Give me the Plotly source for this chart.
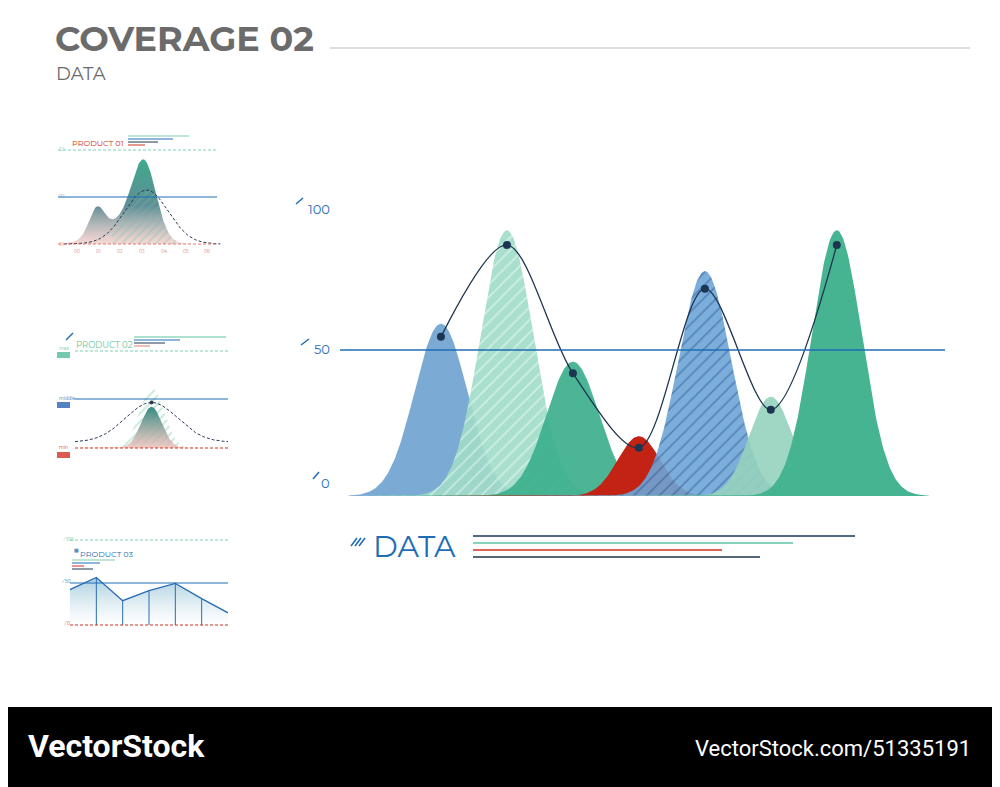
import numpy as np
import plotly.graph_objects as go

# ---------- data ----------
main_centers = [1, 2, 3, 4, 5, 6, 7]
main_heights = [59, 91, 46, 20.5, 77, 34, 91]
main_widths = [0.4, 0.4, 0.4, 0.32, 0.4, 0.33, 0.38]
main_colors = ["rgba(100,155,205,0.85)", "rgba(160,220,200,0.9)", "rgba(60,175,140,0.92)",
               "rgba(195,35,20,1)", "rgba(110,165,215,0.9)", "rgba(150,210,190,0.9)", "rgba(70,180,145,1)"]
main_hatched = [False, True, False, False, True, False, False]
dot_values = [54.5, 86, 42, 16.5, 71, 29.5, 86]

p1_ticks = ["00", "01", "02", "03", "04", "05", "06"]
p1_ylabels = ["01", "02", "03"]
p1_centers = [0.9, 2.0, 3.1]
p1_heights = [0.55, 0.45, 1.55]
p1_widths = [0.35, 1.0, 0.55]
p1_dash_center, p1_dash_height, p1_dash_width = 3.2, 1.15, 1.0

p2_hatch = [0.0, 1.25, 0.35]   # center, height, width
p2_solid = [0.0, 0.85, 0.3]
p2_dash = [0.0, 0.82, 0.75]

p3_values = [41.7, 56, 28.6, 40.5, 49, 31, 14.3]

W, H = 1000, 787
OFF = 8
def px(x): return (x - OFF) / W
def py(y): return 1 - (y - OFF) / H

fig = go.Figure()

def gauss(x, c, h, w):
    return h * np.exp(-0.5 * ((x - c) / w) ** 2)

SD = "3px,2px"

# ---------- main chart ----------
xs = np.linspace(-0.4, 8.4, 600)
for c, h, w, col, hat in zip(main_centers, main_heights, main_widths, main_colors, main_hatched):
    m = (xs > c - 3.2) & (xs < c + 3.2)
    tr = dict(x=xs[m], y=gauss(xs[m], c, h, w), mode="lines", line=dict(width=0),
              fill="tozeroy", xaxis="x", yaxis="y", hoverinfo="skip", showlegend=False, fillcolor=col)
    if hat:
        tr["fillpattern"] = dict(shape="/", fgcolor="rgba(30,70,130,0.8)" if c == 5 else "rgba(255,255,255,0.9)",
                                 bgcolor=col, size=9, solidity=0.2)
    fig.add_trace(go.Scatter(**tr))
fig.add_trace(go.Scatter(x=main_centers, y=dot_values, mode="lines+markers", line=dict(shape="spline", color="#1c3550", width=1.3, smoothing=0.9),
                         marker=dict(size=8, color="#1c3550"), xaxis="x", yaxis="y", showlegend=False))

# ---------- product 01 ----------
x1 = np.linspace(-0.6, 6.6, 300)
y1 = sum(gauss(x1, c, h, w) for c, h, w in zip(p1_centers, p1_heights, p1_widths))
fig.add_trace(go.Scatter(x=x1, y=y1, mode="lines", line=dict(width=0), fill="tozeroy",
                         fillgradient=dict(type="vertical", colorscale=[[0, "rgba(245,200,195,0.7)"], [0.45, "rgba(80,130,140,0.9)"], [1, "rgba(60,170,140,1)"]]),
                         xaxis="x2", yaxis="y2", showlegend=False))
m = (x1 > 1.6) & (x1 < 4.8)
fig.add_trace(go.Scatter(x=x1[m], y=np.minimum(y1[m], gauss(x1[m], p1_dash_center, p1_dash_height, p1_dash_width)), mode="lines", line=dict(width=0),
                         fill="tozeroy", fillcolor="rgba(0,0,0,0)",
                         fillpattern=dict(shape="/", fgcolor="rgba(100,200,160,0.8)", bgcolor="rgba(0,0,0,0)", size=6, solidity=0.2),
                         xaxis="x2", yaxis="y2", showlegend=False))
fig.add_trace(go.Scatter(x=x1, y=gauss(x1, p1_dash_center, p1_dash_height, p1_dash_width), mode="lines",
                         line=dict(color="#2a3a55", width=1, dash=SD), xaxis="x2", yaxis="y2", showlegend=False))

# ---------- product 02 ----------
x2 = np.linspace(-2.2, 2.2, 300)
fig.add_trace(go.Scatter(x=x2, y=gauss(x2, *p2_hatch), mode="lines", line=dict(width=0), fill="tozeroy", fillcolor="rgba(0,0,0,0)",
                         fillpattern=dict(shape="/", fgcolor="rgba(100,200,160,0.8)", bgcolor="rgba(0,0,0,0)", size=6, solidity=0.3),
                         xaxis="x3", yaxis="y3", showlegend=False))
fig.add_trace(go.Scatter(x=x2, y=gauss(x2, *p2_solid), mode="lines", line=dict(width=0), fill="tozeroy",
                         fillgradient=dict(type="vertical", colorscale=[[0, "rgba(240,190,185,0.8)"], [1, "rgba(50,140,130,1)"]]),
                         xaxis="x3", yaxis="y3", showlegend=False))
fig.add_trace(go.Scatter(x=x2, y=gauss(x2, *p2_dash) + 0.12, mode="lines", line=dict(color="#2a3a55", width=1, dash=SD),
                         xaxis="x3", yaxis="y3", showlegend=False))
fig.add_trace(go.Scatter(x=[0], y=[p2_dash[1] + 0.12], mode="markers", marker=dict(size=4, color="#2a3a55"),
                         xaxis="x3", yaxis="y3", showlegend=False))

# ---------- product 03 ----------
x3 = list(range(len(p3_values)))
fig.add_trace(go.Scatter(x=x3, y=p3_values, mode="lines", line=dict(color="#2a6db5", width=1.3), fill="tozeroy",
                         fillgradient=dict(type="vertical", colorscale=[[0, "rgba(255,255,255,0.5)"], [1, "rgba(150,195,215,0.8)"]]),
                         xaxis="x4", yaxis="y4", showlegend=False))
for xi, v in zip(x3[1:-1], p3_values[1:-1]):
    fig.add_trace(go.Scatter(x=[xi, xi], y=[0, v], mode="lines", line=dict(color="#2a6db5", width=1),
                             xaxis="x4", yaxis="y4", showlegend=False, hoverinfo="skip"))

ax_off = dict(showgrid=False, zeroline=False, showticklabels=False, showline=False, fixedrange=True)
fig.update_layout(
    width=W, height=H, margin=dict(l=0, r=0, t=0, b=0), paper_bgcolor="white", plot_bgcolor="rgba(0,0,0,0)",
    font=dict(family="Montserrat, Lato, sans-serif"),
    xaxis=dict(domain=[px(340), px(945)], range=[-0.53, 8.64], **ax_off),
    yaxis=dict(domain=[py(496), py(204)], range=[0, 100], **ax_off),
    xaxis2=dict(domain=[px(58), px(225)], range=[-0.88, 6.82], anchor="y2", **ax_off),
    yaxis2=dict(domain=[py(252), py(146)], range=[-0.17, 2.085], anchor="x2", **ax_off),
    xaxis3=dict(domain=[px(75), px(228)], range=[-2.2, 2.2], anchor="y3", **ax_off),
    yaxis3=dict(domain=[py(448), py(351)], range=[0, 2], anchor="x3", **ax_off),
    xaxis4=dict(domain=[px(70), px(228)], range=[0, 6], anchor="y4", **ax_off),
    yaxis4=dict(domain=[py(625), py(540)], range=[0, 100], anchor="x4", **ax_off),
)

shapes = []
def hline(x0, x1_, y, color, width=1, dash="solid"):
    shapes.append(dict(type="line", xref="paper", yref="paper", x0=px(x0), x1=px(x1_), y0=py(y), y1=py(y),
                       line=dict(color=color, width=width, dash=dash)))
def seg(x0, y0, x1_, y1_, color, width=1.5):
    shapes.append(dict(type="line", xref="paper", yref="paper", x0=px(x0), x1=px(x1_), y0=py(y0), y1=py(y1_),
                       line=dict(color=color, width=width)))

hline(330, 970, 48, "#bbbbbb", 1)
shapes.append(dict(type="line", xref="paper", yref="y", x0=px(340), x1=px(945), y0=50, y1=50, line=dict(color="#1f6db5", width=1.3)))
seg(296, 204, 303, 198, "#1f6db5"); seg(301, 345, 309, 339, "#1f6db5"); seg(313, 479, 319, 472, "#1f6db5")
hline(473, 855, 536, "#1c3550", 1.3)
hline(473, 793, 543, "#5cc4a0", 1.3)
hline(473, 722, 550, "#d03020", 1.3)
hline(473, 760, 557, "#1c3550", 1.3)
for k in range(3):
    seg(351 + k * 4, 546, 357 + k * 4, 538, "#1f6db5", 1.5)
# product 01
hline(58, 217, 150, "#7fd0b5", 1, SD)
hline(58, 217, 197, "#1f6db5", 1)
hline(58, 217, 244, "#e07a70", 1, SD)
hline(128, 189, 136, "#7fd0b5", 1)
hline(128, 173, 139, "#1f6db5", 1)
hline(128, 158, 142, "#1c3550", 1)
hline(128, 145, 145, "#d03020", 1)
# product 02
hline(75, 228, 351, "#7fd0b5", 1, SD)
hline(75, 228, 399, "#1f6db5", 1)
hline(75, 228, 448, "#d03020", 1, SD)
hline(134, 226, 337, "#5cc4a0", 1)
hline(134, 180, 340, "#1f6db5", 1)
hline(134, 165, 343, "#1c3550", 1)
hline(134, 150, 346, "#e07a70", 1)
seg(66, 340, 73, 333, "#1f6db5", 1.5)
for yy, col in [(355, "rgba(80,190,150,0.8)"), (405, "rgba(40,100,180,0.8)"), (455, "rgba(210,50,40,0.8)")]:
    shapes.append(dict(type="rect", xref="paper", yref="paper", x0=px(57), x1=px(70), y0=py(yy + 3), y1=py(yy - 3),
                       fillcolor=col, line=dict(width=0)))
# product 03
hline(70, 228, 540, "#7fd0b5", 1, SD)
hline(70, 228, 583, "#1f6db5", 1)
hline(70, 228, 625, "#d03020", 1, SD)
hline(72, 115, 560, "#a8dcc8", 1.3)
hline(72, 100, 563, "#1f6db5", 1)
hline(72, 84, 566, "#d03020", 1)
hline(72, 93, 569, "#1c3550", 1)
# footer
shapes.append(dict(type="rect", xref="paper", yref="paper", x0=0, x1=1, y0=0, y1=py(707), fillcolor="black", line=dict(width=0), layer="above"))
fig.update_layout(shapes=shapes)

ann = []
def text(x, y, s, size, color, anchor="left", bold=False, family=None):
    d = dict(xref="paper", yref="paper", x=px(x), y=py(y), text=f"<b>{s}</b>" if bold else s, showarrow=False,
             xanchor=anchor, yanchor="middle", font=dict(size=size, color=color))
    if family: d["font"]["family"] = family
    ann.append(d)

text(53, 38, "COVERAGE 02", 35, "#6b6b6b", bold=True)
text(54, 74, "DATA", 18, "#6b6b6b")
text(306, 209, "100", 13, "#1f6db5")
text(312, 349, "50", 13, "#1f6db5")
text(319, 483, "0", 13, "#1f6db5")
text(371, 546, "DATA", 30, "#1f6db5")
text(70, 143, "PRODUCT 01", 8, "#d03020")
for i, t in enumerate(p1_ticks):
    text(77 + 21.7 * i, 251, t, 4.5, "#e07a70", anchor="center")
for yy, t in zip([244, 197, 150], p1_ylabels):
    text(57, yy, t, 4.5, "#6f9ad0" if t == "02" else ("#7fd0b5" if t == "03" else "#e07a70"))
text(74, 345, "PRODUCT 02", 8.5, "#5cc4a0")
text(57, 348, "max", 4.5, "#5cc4a0")
text(57, 398, "middle", 4.5, "#1f6db5")
text(57, 447, "min", 4.5, "#d03020")
text(78, 554, "PRODUCT 03", 8, "#1f6db5")
text(72, 550, "▩", 5, "#1f6db5")
text(61, 539, "⁄ 100", 4.5, "#5cc4a0")
text(60, 581, "⁄ 50", 4.5, "#1f6db5")
text(62, 623, "⁄ 0", 4.5, "#d03020")
text(26, 746, "VectorStock", 32, "white", bold=True, family="Roboto")
text(973, 748, "VectorStock.com/51335191", 22, "white", anchor="right", family="Roboto")
fig.update_layout(annotations=ann)

fig.write_html("out.html")
